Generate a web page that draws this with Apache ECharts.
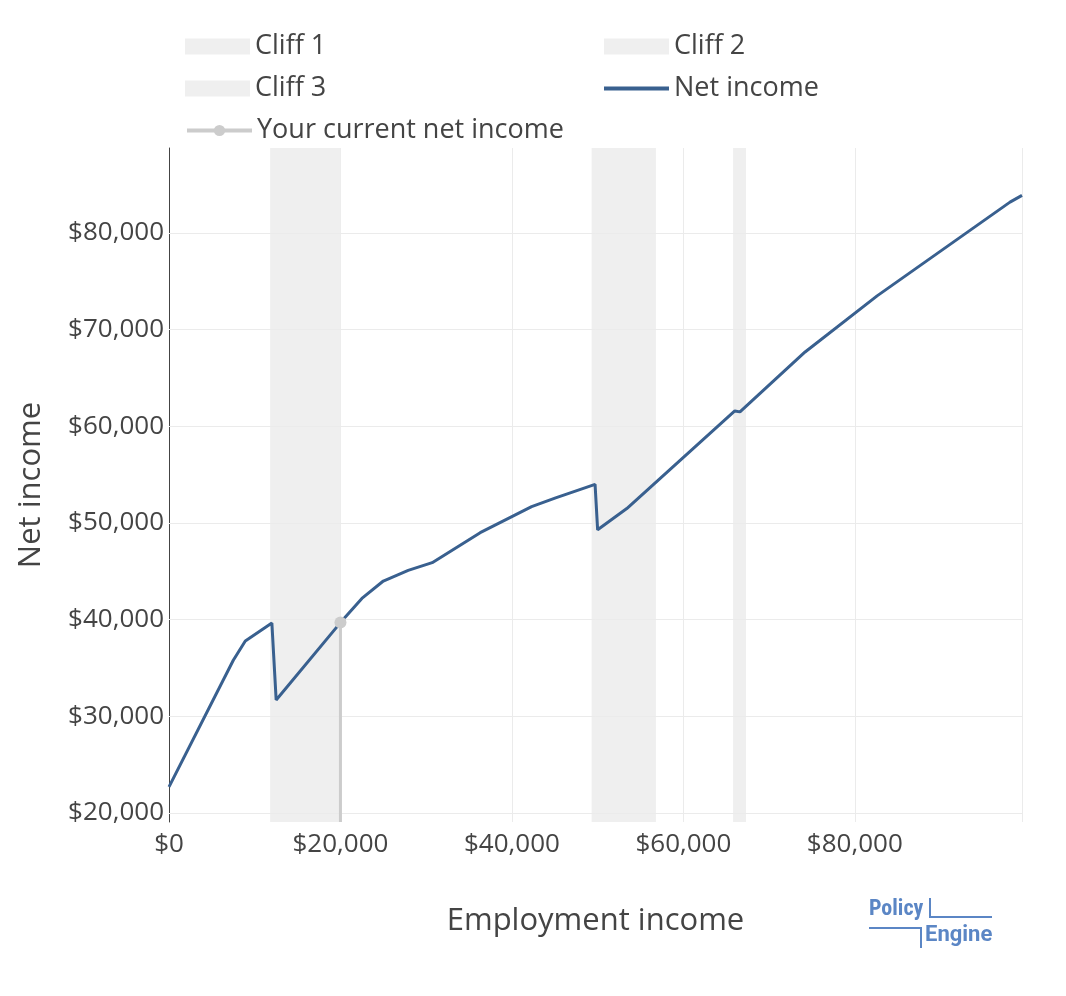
<!DOCTYPE html>
<html><head><meta charset="utf-8">
<script src="https://cdn.jsdelivr.net/npm/echarts@6/dist/echarts.min.js"></script>
<style>html,body{margin:0;padding:0;background:#fff}#c{width:1066px;height:996px}</style>
</head><body><div id="c"></div>
<script>
const incomeX = [0,7500,8900,12000,12500,20000,22500,25000,27900,30700,36300,42300,45100,49700,50000,53400,66000,66600,74200,82600,98100,99500];
const netIncome = [22700,35800,37800,39650,31700,39700,42200,44000,45100,45900,49000,51700,52600,54000,49300,51500,61600,61500,67700,73500,83200,83900];
const cliffs = [["Cliff 1",11800,20000],["Cliff 2",49300,56800],["Cliff 3",65800,67300]];
const current = [20000,39700];
const yTicks = [20000,30000,40000,50000,60000,70000,80000];
const YMIN=19070, YMAX=88800;
const font='"Open Sans", "Noto Sans", sans-serif';
const fmt=v=>'$'+v.toLocaleString('en-US');
const chart=echarts.init(document.getElementById('c'));
const series=cliffs.map(c=>({name:c[0],type:'line',data:[],color:'#efefef',
  markArea:{silent:true,itemStyle:{color:'#efefef'},data:[[{xAxis:c[1]},{xAxis:c[2]}]]}}));
series.push({name:'Net income',type:'line',data:incomeX.map((x,i)=>[x,netIncome[i]]),color:'#39608f',
  symbol:'none',lineStyle:{width:3,color:'#39608f'},z:5,
  markLine:{silent:true,symbol:'none',label:{show:false},lineStyle:{color:'#ebebeb',type:'solid',width:1},
    data:yTicks.map(v=>({yAxis:v}))}});
series.push({name:'Your current net income',type:'line',color:'#cccccc',
  data:[[current[0],YMIN],current],symbol:'circle',symbolSize:(v,p)=>p.dataIndex===1?12:0,
  itemStyle:{color:'#cccccc'},lineStyle:{width:3,color:'#cccccc'},z:6});
const ts={fontSize:27,color:'#444',fontFamily:font};
const leg=(names,left,top,extra)=>Object.assign({data:names,left,top,itemWidth:65,itemHeight:16,
  icon:'rect',selectedMode:false,textStyle:ts},extra||{});
chart.setOption({
  animation:false,
  legend:[
    leg(['Cliff 1'],180,28),leg(['Cliff 2'],599,28),
    leg(['Cliff 3'],180,70),
    leg([{name:'Net income',icon:'rect',itemStyle:{color:'#39608f'}}],599,70,{itemHeight:4}),
    leg(['Your current net income'],180,112,{icon:undefined,itemHeight:14,itemStyle:{},lineStyle:{width:4}})
  ],
  grid:{left:169,right:44,top:148,bottom:174,containLabel:false},
  xAxis:{type:'value',min:0,max:99500,interval:20000,
    name:'Employment income',nameLocation:'middle',nameGap:84,
    nameTextStyle:{fontSize:31,color:'#444',fontFamily:font},
    axisLine:{show:false},axisTick:{show:false},
    axisLabel:{fontSize:26,color:'#444',fontFamily:font,formatter:fmt,showMaxLabel:false,margin:10},
    splitLine:{show:true,lineStyle:{color:'#ebebeb'}}},
  yAxis:{type:'value',min:YMIN,max:YMAX,
    name:'Net income',nameLocation:'middle',nameGap:122,
    nameTextStyle:{fontSize:31,color:'#444',fontFamily:font},
    axisLine:{show:true,lineStyle:{color:'#444',width:1}},axisTick:{show:false},
    splitLine:{show:false},
    axisLabel:{fontSize:26,color:'#444',fontFamily:font,formatter:fmt,customValues:yTicks,margin:5}},
  series,
  graphic:[
    {type:'text',left:869,top:898,style:{text:'Policy',fontSize:22,fontWeight:'bold',fill:'#5b86c5',fontFamily:'"Roboto Condensed", Roboto, sans-serif'}},
    {type:'text',left:925,top:924,style:{text:'Engine',fontSize:22,fontWeight:'bold',fill:'#5b86c5',fontFamily:'Roboto, sans-serif'}},
    {type:'polyline',shape:{points:[[930,898],[930,917],[992,917]]},style:{stroke:'#5b86c5',lineWidth:2,fill:null}},
    {type:'polyline',shape:{points:[[869,928],[921,928],[921,948]]},style:{stroke:'#5b86c5',lineWidth:2,fill:null}}
  ]
});
</script></body></html>
